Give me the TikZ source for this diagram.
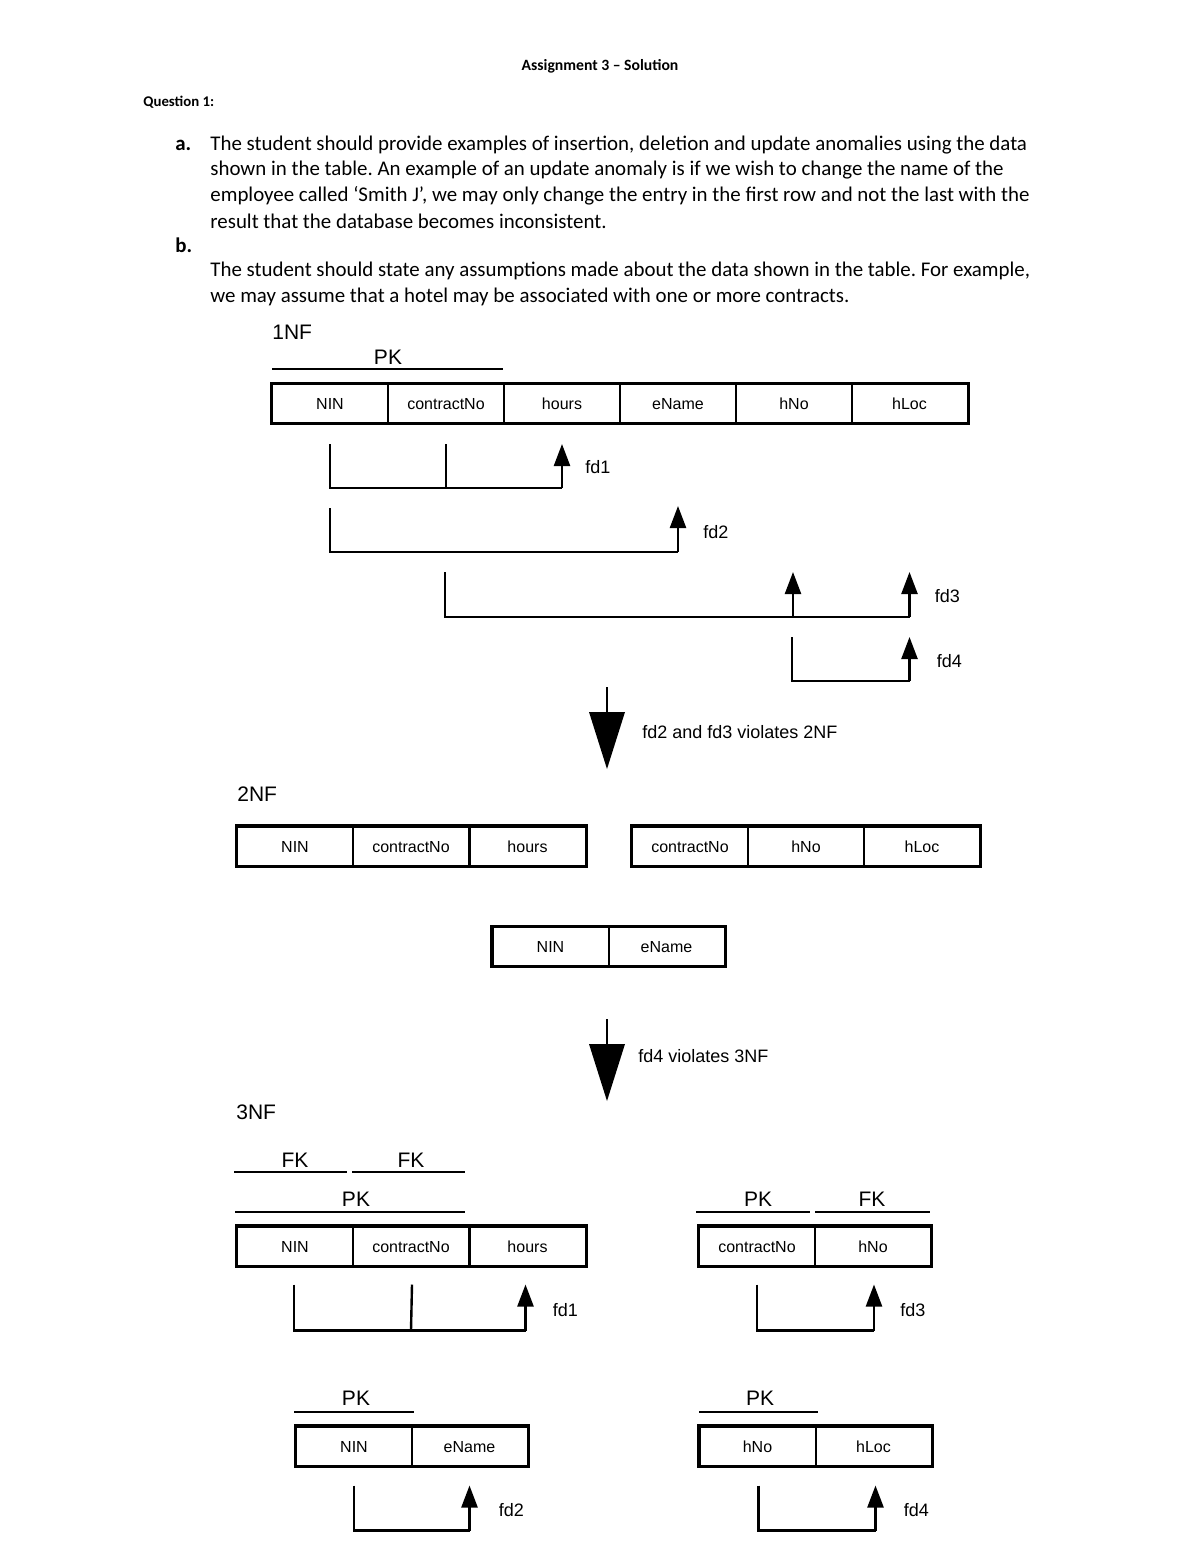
\documentclass[tikz,border=0pt]{standalone}
\usepackage{fontspec}
\setmainfont{Carlito}
\newfontfamily\arialf{Liberation Sans}
\usetikzlibrary{calc,arrows.meta}
\frenchspacing
\tikzset{
  cell/.style={draw, line width=1pt, minimum width=58pt, minimum height=19.5pt, inner sep=0pt, text height=7pt, text depth=0.8pt, font=\arialf\fontsize{8}{9}\selectfont},
  frame/.style={line width=1.4pt},
  fdline/.style={line width=1.2pt},
  fdarrow/.style={line width=1.2pt, -{Triangle[width=8pt,length=11pt]}},
  keyline/.style={line width=1.3pt},
  head/.style={font=\arialf\fontsize{10.5}{12}\selectfont, inner sep=0pt},
  fdlab/.style={font=\arialf\fontsize{9}{10}\selectfont, inner sep=0pt, anchor=west},
  body/.style={font=\fontsize{10.45}{13}\selectfont, inner sep=0pt, anchor=base west},
  bodyb/.style={font=\bfseries\fontsize{10.45}{13}\selectfont, inner sep=0pt, anchor=base west},
  bigline/.style={line width=1pt},
}
\begin{document}
\begin{tikzpicture}[x=0.5pt,y=-0.5pt]
\useasboundingbox (0,0) rectangle (1200,1553);
\fill[white] (0,0) rectangle (1200,1553);
% header text
\node[font=\bfseries\fontsize{7.85}{9}\selectfont, inner sep=0pt, anchor=base] (title) at (600,70) {Assignment 3 – Solution};
\node[font=\bfseries\fontsize{7.4}{9}\selectfont, inner sep=0pt, anchor=base west] (q1) at (143,106) {Question 1:};
\node[bodyb] (la) at (175,150) {a.};
\node[body] (ta1) at (210,150) {The student should provide examples of insertion, deletion and update anomalies using the data};
\node[body] (ta2) at (210,175) {shown in the table. An example of an update anomaly is if we wish to change the name of the};
\node[body] (ta3) at (210,201) {employee called ‘Smith J’, we may only change the entry in the first row and not the last with the};
\node[body] (ta4) at (210,228) {result that the database becomes inconsistent.};
\node[bodyb] (lb) at (175,252) {b.};
\node[body] (tb1) at (210,276) {The student should state any assumptions made about the data shown in the table. For example,};
\node[body] (tb2) at (210,302) {we may assume that a hotel may be associated with one or more contracts.};

% ---------- 1NF ----------
\node[head, anchor=west] (h1) at (272,332) {1NF};
\node[head] (pk1) at (388,357) {PK};
\coordinate (pk1a) at (272,369);
\coordinate (pk1b) at (503,369);
\draw[keyline] (pk1a) -- (pk1b);
\node[cell] (A1) at (330,403.5) {NIN};
\node[cell] (A2) at (446,403.5) {contractNo};
\node[cell] (A3) at (562,403.5) {hours};
\node[cell] (A4) at (678,403.5) {eName};
\node[cell] (A5) at (794,403.5) {hNo};
\node[cell] (A6) at (909.5,403.5) {hLoc};
\draw[frame] (A1.north west) rectangle (A6.south east);
% fd1
\draw[fdline] ($(A1.south)+(0,20)$) |- ($(A3.south)+(0,64)$);
\draw[fdline] ($(A2.south)+(0,20)$) -- ($(A2.south)+(0,64)$);
\draw[fdarrow] ($(A3.south)+(0,64)$) -- ($(A3.south)+(0,20)$);
\node[fdlab] (f1) at ($(A3.south)+(23,43)$) {fd1};
% fd2
\draw[fdline] ($(A1.south)+(0,84)$) |- ($(A4.south)+(0,128)$);
\draw[fdarrow] ($(A4.south)+(0,128)$) -- ($(A4.south)+(0,82)$);
\node[fdlab] (f2) at ($(A4.south)+(25,108)$) {fd2};
% fd3
\draw[fdline] ($(A2.south)+(-1,148)$) |- ($(A6.south)+(0,193)$);
\draw[fdarrow] ($(A5.south)+(-1,193)$) -- ($(A5.south)+(-1,148)$);
\draw[fdarrow] ($(A6.south)+(0,193)$) -- ($(A6.south)+(0,148)$);
\node[fdlab] (f3) at ($(A6.south)+(25,172)$) {fd3};
% fd4
\draw[fdline] ($(A5.south)+(-2,213)$) |- ($(A6.south)+(0,257)$);
\draw[fdarrow] ($(A6.south)+(0,257)$) -- ($(A6.south)+(0,213)$);
\node[fdlab] (f4) at ($(A6.south)+(27,237)$) {fd4};

% big arrow 1
\coordinate (ba1) at (607,687);
\coordinate (bb1) at (607,712);
\coordinate (bt1) at (607,769);
\draw[bigline] (ba1) -- (bb1);
\fill ($(bb1)+(-18,0)$) -- ($(bb1)+(18,0)$) -- (bt1) -- cycle;
\node[fdlab] (v1) at (642,732) {fd2 and fd3 violates 2NF};

% ---------- 2NF ----------
\node[head, anchor=west] (h2) at (237,794) {2NF};
\node[cell] (B1) at (295,846) {NIN};
\node[cell] (B2) at (411,846) {contractNo};
\node[cell] (B3) at (527.5,846) {hours};
\draw[frame] (B1.north west) rectangle (B3.south east);
\node[cell] (C1) at (690,846) {contractNo};
\node[cell] (C2) at (806,846) {hNo};
\node[cell] (C3) at (922,846) {hLoc};
\draw[frame] (C1.north west) rectangle (C3.south east);
\node[cell] (D1) at (550.5,946.5) {NIN};
\node[cell] (D2) at (666.5,946.5) {eName};
\draw[frame] (D1.north west) rectangle (D2.south east);

% big arrow 2
\coordinate (ba2) at (607,1019);
\coordinate (bb2) at (607,1044);
\coordinate (bt2) at (607,1101);
\draw[bigline] (ba2) -- (bb2);
\fill ($(bb2)+(-18,0)$) -- ($(bb2)+(18,0)$) -- (bt2) -- cycle;
\node[fdlab] (v2) at (638,1056) {fd4 violates 3NF};

% ---------- 3NF ----------
\node[head, anchor=west] (h3) at (236,1112) {3NF};
\node[head] (fk1) at (295,1160) {FK};
\node[head] (fk2) at (411,1160) {FK};
\coordinate (fk1a) at (234,1172); \coordinate (fk1b) at (347,1172);
\coordinate (fk2a) at (352,1172); \coordinate (fk2b) at (465,1172);
\draw[keyline] (fk1a) -- (fk1b);
\draw[keyline] (fk2a) -- (fk2b);
\node[head] (pk2) at (356,1199) {PK};
\coordinate (pk2a) at (235,1212); \coordinate (pk2b) at (465,1212);
\draw[keyline] (pk2a) -- (pk2b);
\node[cell] (E1) at (295,1246) {NIN};
\node[cell] (E2) at (411,1246) {contractNo};
\node[cell] (E3) at (527.5,1246) {hours};
\draw[frame] (E1.north west) rectangle (E3.south east);
\draw[fdline] ($(E1.south)+(-1,18)$) |- ($(E3.south)+(-2,64)$);
\draw[fdline] ($(E2.south)+(1,18)$) -- ($(E2.south)+(0,64)$);
\draw[fdarrow] ($(E3.south)+(-2,64)$) -- ($(E3.south)+(-2,18)$);
\node[fdlab] (g1) at ($(E3.south)+(25,44)$) {fd1};

\node[head] (pk3) at (758,1199) {PK};
\node[head] (fk3) at (872,1199) {FK};
\coordinate (pk3a) at (696,1212); \coordinate (pk3b) at (810,1212);
\coordinate (fk3a) at (815,1212); \coordinate (fk3b) at (930,1212);
\draw[keyline] (pk3a) -- (pk3b);
\draw[keyline] (fk3a) -- (fk3b);
\node[cell] (F1) at (757,1246) {contractNo};
\node[cell] (F2) at (873,1246) {hNo};
\draw[frame] (F1.north west) rectangle (F2.south east);
\draw[fdline] ($(F1.south)+(0,18)$) |- ($(F2.south)+(1,64)$);
\draw[fdarrow] ($(F2.south)+(1,64)$) -- ($(F2.south)+(1,18)$);
\node[fdlab] (g3) at ($(F2.south)+(27,44)$) {fd3};

\node[head] (pk4) at (356,1398) {PK};
\coordinate (pk4a) at (294,1412); \coordinate (pk4b) at (414,1412);
\draw[keyline] (pk4a) -- (pk4b);
\node[cell] (G1) at (354,1446) {NIN};
\node[cell] (G2) at (469.5,1446) {eName};
\draw[frame] (G1.north west) rectangle (G2.south east);
\draw[fdline] ($(G1.south)+(0,19)$) |- ($(G2.south)+(0,64)$);
\draw[fdarrow] ($(G2.south)+(0,64)$) -- ($(G2.south)+(0,19)$);
\node[fdlab] (g2) at ($(G2.south)+(29,44)$) {fd2};

\node[head] (pk5) at (760,1398) {PK};
\coordinate (pk5a) at (699,1412); \coordinate (pk5b) at (818,1412);
\draw[keyline] (pk5a) -- (pk5b);
\node[cell] (H1) at (757.5,1446) {hNo};
\node[cell] (H2) at (873.5,1446) {hLoc};
\draw[frame] (H1.north west) rectangle (H2.south east);
\draw[fdline] ($(H1.south)+(1,19)$) |- ($(H2.south)+(2,64)$);
\draw[fdarrow] ($(H2.south)+(2,64)$) -- ($(H2.south)+(2,19)$);
\node[fdlab] (g4) at ($(H2.south)+(30,44)$) {fd4};
\end{tikzpicture}
\end{document}
